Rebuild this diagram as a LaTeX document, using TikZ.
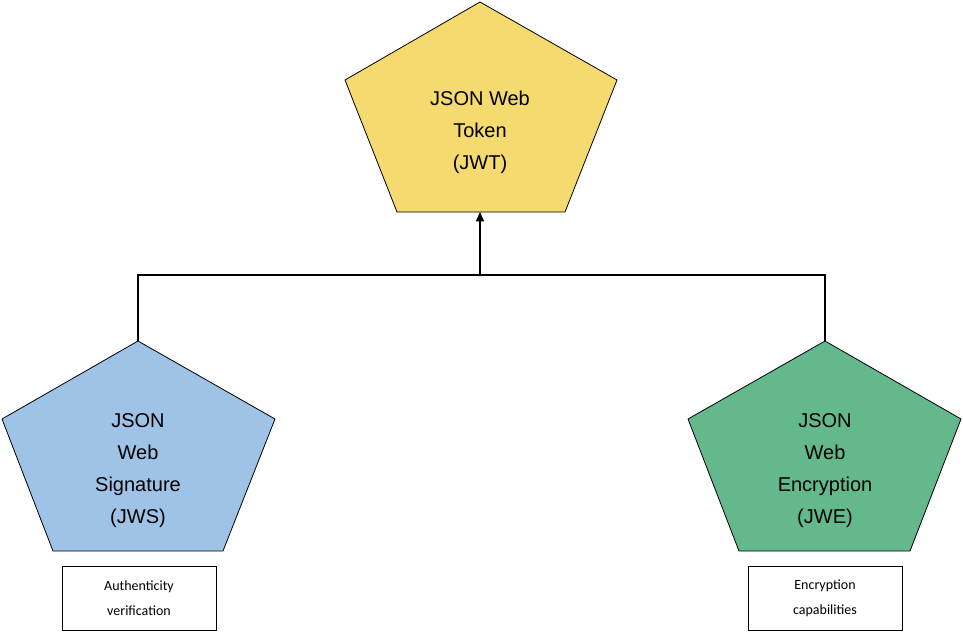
\documentclass[tikz,border=0pt]{standalone}
\usepackage{fontspec}
\setmainfont{Liberation Sans}
\newfontfamily\smallf{Carlito}
\usetikzlibrary{arrows.meta}
\definecolor{jwt}{HTML}{F5DA6F}
\definecolor{jws}{HTML}{9FC3E7}
\definecolor{jwe}{HTML}{63B98B}
\begin{document}
\begin{tikzpicture}[x=0.75pt,y=-0.75pt,
  pent/.style={draw=black,line width=0.6pt},
  big/.style={align=center,font=\fontsize{15}{24}\selectfont},
  lab/.style={draw=black,line width=0.6pt,minimum width=115.5pt,minimum height=48pt,align=center,font=\smallf\fontsize{10.5}{18.5}\selectfont},
  conn/.style={line width=1.1pt}]
\useasboundingbox (0,0) rectangle (963,635);
% top
\coordinate (ta) at (480,2);
\draw[pent,fill=jwt] (ta) -- (617,80) -- (565,212) -- (397,212) -- (345,80) -- cycle;
\coordinate (tb) at (480,212);
\node[big] (tt) at (480,132) {JSON Web\\Token\\(JWT)};
% left
\coordinate (la) at (138,341);
\draw[pent,fill=jws] (la) -- (275,419) -- (223,551) -- (53,551) -- (2,419) -- cycle;
\node[big] (lt) at (138,471) {JSON\\Web\\Signature\\(JWS)};
% right
\coordinate (ra) at (825,341);
\draw[pent,fill=jwe] (ra) -- (961,419) -- (910,551) -- (739,551) -- (688,419) -- cycle;
\node[big] (rt) at (825,471) {JSON\\Web\\Encryption\\(JWE)};
% connectors
\coordinate (j) at (480,275);
\draw[conn] (la) |- (j);
\draw[conn] (ra) |- (j);
\draw[conn,-{Triangle[length=7pt,width=6pt]}] (j) -- (tb);
% labels
\node[lab] (ll) at (139,598) {Authenticity\\verification};
\node[lab] (rl) at (825,598) {Encryption\\capabilities};
\end{tikzpicture}
\end{document}
